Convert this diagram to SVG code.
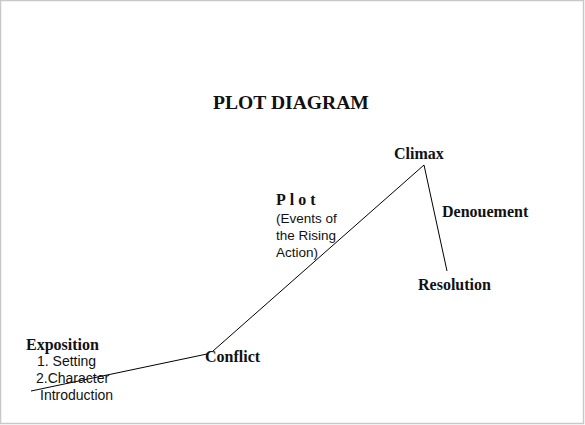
<svg xmlns="http://www.w3.org/2000/svg" width="585" height="425" viewBox="0 0 585 425">
<style>
.h{font-family:"Liberation Serif",serif;font-weight:bold;fill:#111}
.s{font-family:"Liberation Sans",sans-serif;fill:#111}
.ln{stroke:#000;stroke-width:1;fill:none}
</style>
<rect x="0.5" y="0.5" width="583" height="423" fill="#fff" stroke="#c8c8c8" stroke-width="1.5"/>
<text id="title" class="h" x="213" y="109" font-size="19.6">PLOT DIAGRAM</text>
<g id="connectors">
<line class="ln" x1="31" y1="391" x2="207" y2="354"/>
<line class="ln" x1="213" y1="351" x2="424" y2="165"/>
<line class="ln" x1="424" y1="165" x2="447" y2="271"/>
</g>
<g id="exposition">
<text class="h" x="26" y="350" font-size="16">Exposition</text>
<text class="s" x="37" y="366" font-size="14">1. Setting</text>
<text class="s" x="36" y="383" font-size="14">2.Character</text>
<text class="s" x="40" y="400" font-size="14">Introduction</text>
</g>
<g id="conflict"><text class="h" x="205" y="362" font-size="16">Conflict</text></g>
<g id="plot">
<text class="h" x="276" y="205" font-size="16" letter-spacing="4">Plot</text>
<text class="s" x="276" y="223" font-size="13.5">(Events of</text>
<text class="s" x="276" y="240" font-size="13.5">the Rising</text>
<text class="s" x="276" y="257" font-size="13.5">Action)</text>
</g>
<g id="climax"><text class="h" x="394" y="159" font-size="16">Climax</text></g>
<g id="denouement"><text class="h" x="442" y="217" font-size="16">Denouement</text></g>
<g id="resolution"><text class="h" x="418" y="290" font-size="16">Resolution</text></g>
</svg>
